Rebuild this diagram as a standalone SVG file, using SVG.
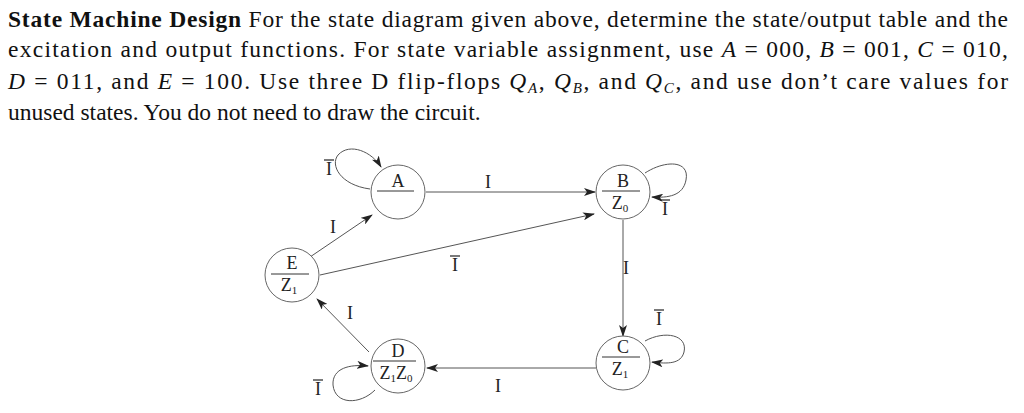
<svg xmlns="http://www.w3.org/2000/svg" width="1024" height="413" viewBox="0 0 1024 413">
<defs>
<marker id="ar" markerWidth="12" markerHeight="8" refX="11" refY="4" orient="auto" markerUnits="userSpaceOnUse"><path d="M0,0 L12,4 L0,8 L3,4 z" fill="#222"/></marker>
</defs>
<style>
.p{font-family:"Liberation Serif",serif;font-size:23.5px;fill:#111}
.i{font-style:italic}
.n{font-family:"Liberation Serif",serif;font-size:18px;fill:#222;text-anchor:middle}
.s{font-size:11px}
.c{fill:#fff;stroke:#666;stroke-width:1}
.d{stroke:#333;stroke-width:1}
.e{fill:none;stroke:#555;stroke-width:1}
.ov{stroke:#222;stroke-width:1.2}
</style>
<rect width="1024" height="413" fill="#fff"/>
<text class="p" x="8" y="27" textLength="1000" lengthAdjust="spacing"><tspan font-weight="bold">State Machine Design</tspan> For the state diagram given above, determine the state/output table and the</text>
<text class="p" x="8" y="57" textLength="1000" lengthAdjust="spacing">excitation and output functions. For state variable assignment, use <tspan class="i">A</tspan> = 000, <tspan class="i">B</tspan> = 001, <tspan class="i">C</tspan> = 010,</text>
<text class="p" x="8" y="89" textLength="1000" lengthAdjust="spacing"><tspan class="i">D</tspan> = 011, and <tspan class="i">E</tspan> = 100. Use three D flip-flops <tspan class="i">Q</tspan><tspan class="i" font-size="15" dy="4">A</tspan><tspan dy="-4">,</tspan> <tspan class="i">Q</tspan><tspan class="i" font-size="15" dy="4">B</tspan><tspan dy="-4">, and</tspan> <tspan class="i">Q</tspan><tspan class="i" font-size="15" dy="4">C</tspan><tspan dy="-4">, and use don’t care values for</tspan></text>
<text class="p" x="8" y="120">unused states. You do not need to draw the circuit.</text>

<g id="connectors">
<line class="e" x1="426" y1="192" x2="595" y2="192" marker-end="url(#ar)"/>
<line class="e" x1="310" y1="257" x2="372" y2="215" marker-end="url(#ar)"/>
<line class="e" x1="320" y1="275" x2="594" y2="214" marker-end="url(#ar)"/>
<line class="e" x1="623" y1="220" x2="623" y2="336" marker-end="url(#ar)"/>
<line class="e" x1="596" y1="368" x2="427" y2="368" marker-end="url(#ar)"/>
<line class="e" x1="369" y1="352" x2="317" y2="299" marker-end="url(#ar)"/>
<path class="e" d="M370,189 C340,185 330,165 338,155 C350,142 372,152 381,167" marker-end="url(#ar)"/>
<path class="e" d="M645,173 C665,160 690,160 686,180 C683,196 668,198 652,197" marker-end="url(#ar)"/>
<path class="e" d="M645,341 C665,330 688,335 684,352 C681,364 668,364 652,362" marker-end="url(#ar)"/>
<path class="e" d="M375,390 C360,405 335,405 333,385 C332,368 350,364 368,366" marker-end="url(#ar)"/>
<text class="n" x="488" y="188">I</text>
<text class="n" x="333" y="233">I</text>
<text class="n" x="455" y="271">I</text><line class="ov" x1="450" y1="256" x2="460" y2="256"/>
<text class="n" x="626" y="274">I</text>
<text class="n" x="350" y="319">I</text>
<text class="n" x="498" y="392">I</text>
<text class="n" x="329" y="175">I</text><line class="ov" x1="324" y1="160" x2="334" y2="160"/>
<text class="n" x="665" y="215">I</text><line class="ov" x1="660" y1="200" x2="670" y2="200"/>
<text class="n" x="659" y="325">I</text><line class="ov" x1="654" y1="310" x2="664" y2="310"/>
<text class="n" x="318" y="395">I</text><line class="ov" x1="313" y1="380" x2="323" y2="380"/>
</g>

<g id="A"><circle class="c" cx="398" cy="192" r="27"/><line class="d" x1="377" y1="191" x2="414" y2="191"/><text class="n" x="398" y="187">A</text></g>
<g id="B"><circle class="c" cx="623" cy="192" r="27"/><line class="d" x1="602" y1="191" x2="640" y2="191"/><text class="n" x="623" y="187">B</text><text class="n" x="620" y="209">Z<tspan class="s" dy="3">0</tspan></text></g>
<g id="C"><circle class="c" cx="623" cy="363" r="27"/><line class="d" x1="602" y1="357" x2="640" y2="357"/><text class="n" x="623" y="353">C</text><text class="n" x="620" y="375">Z<tspan class="s" dy="3">1</tspan></text></g>
<g id="D"><circle class="c" cx="398" cy="366" r="27"/><line class="d" x1="373" y1="361" x2="416" y2="361"/><text class="n" x="396" y="379">Z<tspan class="s" dy="3">1</tspan><tspan dy="-3">Z</tspan><tspan class="s" dy="3">0</tspan></text><text class="n" x="398" y="357">D</text></g>
<g id="E"><circle class="c" cx="292" cy="275" r="27"/><line class="d" x1="271" y1="274" x2="309" y2="274"/><text class="n" x="292" y="269">E</text><text class="n" x="289" y="291">Z<tspan class="s" dy="3">1</tspan></text></g>
</svg>
